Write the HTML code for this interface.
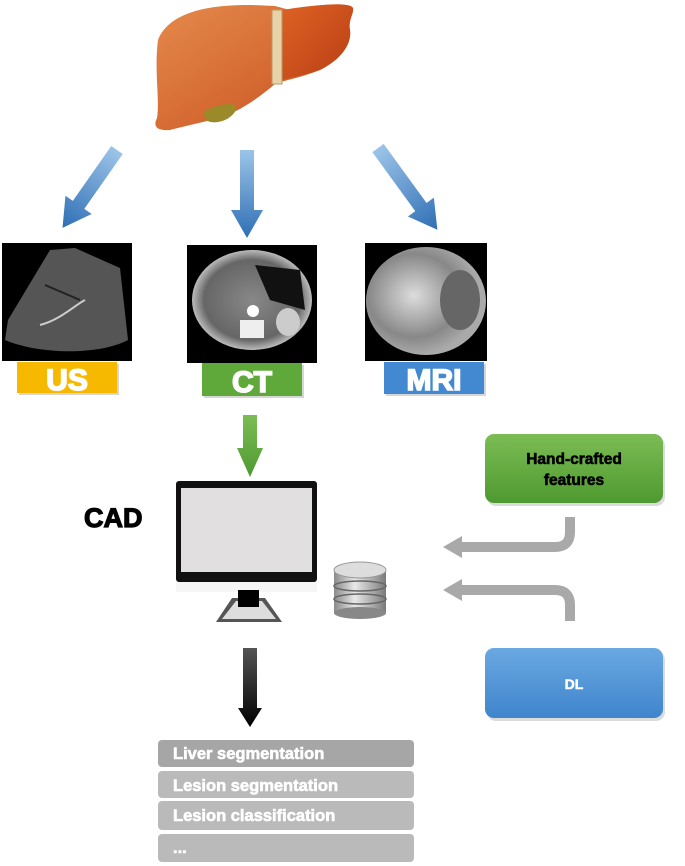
<!DOCTYPE html>
<html><head><meta charset="utf-8"><style>
html,body{margin:0;padding:0;background:#fff;}
svg{display:block;}
text{font-family:"Liberation Sans",Arial,sans-serif;font-weight:bold;}
</style></head><body>
<svg width="685" height="866" viewBox="0 0 685 866" xmlns="http://www.w3.org/2000/svg">
<defs>
<linearGradient id="liv" x1="0" y1="0" x2="1" y2="1"><stop offset="0" stop-color="#e58a4c"/><stop offset="1" stop-color="#c8501e"/></linearGradient>
<linearGradient id="liv2" x1="0" y1="0" x2="1" y2="1"><stop offset="0" stop-color="#de6224"/><stop offset="1" stop-color="#b83e14"/></linearGradient>
<linearGradient id="blu" x1="0" y1="0" x2="0" y2="1"><stop offset="0" stop-color="#9cc4e8"/><stop offset="1" stop-color="#2f6fb5"/></linearGradient>
<linearGradient id="grn" x1="0" y1="0" x2="0" y2="1"><stop offset="0" stop-color="#7cbc55"/><stop offset="1" stop-color="#4e9a30"/></linearGradient>
<linearGradient id="dl" x1="0" y1="0" x2="0" y2="1"><stop offset="0" stop-color="#6aa8e2"/><stop offset="1" stop-color="#3f85cc"/></linearGradient>
<linearGradient id="blk" x1="0" y1="0" x2="0" y2="1"><stop offset="0" stop-color="#555"/><stop offset="1" stop-color="#000"/></linearGradient>
<linearGradient id="db" x1="0" y1="0" x2="1" y2="0"><stop offset="0" stop-color="#8a8a8a"/><stop offset=".4" stop-color="#e8e8e8"/><stop offset="1" stop-color="#7a7a7a"/></linearGradient>
<radialGradient id="ct" cx=".5" cy=".5" r=".5"><stop offset="0" stop-color="#888"/><stop offset=".8" stop-color="#666"/><stop offset="1" stop-color="#bbb"/></radialGradient>
<radialGradient id="mr" cx=".4" cy=".45" r=".55"><stop offset="0" stop-color="#ddd"/><stop offset=".7" stop-color="#888"/><stop offset="1" stop-color="#aaa"/></radialGradient>
</defs>

<!-- liver -->
<path d="M158 40 C170 10 215 2 275 6 L290 10 C320 4 350 2 353 8 C354 14 348 20 350 30 C352 45 340 60 320 70 C300 78 285 80 275 84 C262 95 245 108 225 116 C205 122 185 126 170 130 C156 131 153 126 157 118 C160 100 154 70 158 40 Z" fill="url(#liv)"/>
<path d="M282 10 C320 4 350 2 353 8 C354 14 348 20 350 30 C352 45 340 60 320 70 C300 76 290 78 282 80 Z" fill="url(#liv2)"/>
<path d="M203 112 C215 104 240 100 236 110 C230 122 212 125 206 120 Z" fill="#9a8a2a"/>
<rect x="272" y="10" width="10" height="74" fill="#e8d2a8" stroke="#b89868" stroke-width="1"/>

<!-- blue arrows -->
<g fill="url(#blu)">
<g transform="translate(247,150)"><path d="M-7 0 H7 V60 H16 L0 88 L-16 60 H-7 Z"/></g>
<g transform="translate(117,150) rotate(35)"><path d="M-7 0 H7 V67 H16 L0 95 L-16 67 H-7 Z"/></g>
<g transform="translate(378,148) rotate(-36)"><path d="M-7 0 H7 V73 H16 L0 101 L-16 73 H-7 Z"/></g>
</g>

<!-- US image -->
<rect x="2" y="243" width="130" height="118" fill="#000"/>
<path d="M50 250 L75 248 L120 268 L128 340 C100 355 40 355 5 340 L8 320 Z" fill="#555"/>
<path d="M40 325 C60 320 75 305 85 300" stroke="#ccc" stroke-width="2" fill="none"/>
<path d="M45 285 L80 300" stroke="#222" stroke-width="2"/>
<!-- CT image -->
<rect x="187" y="245" width="130" height="118" fill="#000"/>
<ellipse cx="252" cy="300" rx="60" ry="50" fill="url(#ct)"/>
<path d="M255 265 L300 270 L305 310 L270 300 Z" fill="#111"/>
<rect x="240" y="320" width="24" height="18" fill="#eee"/>
<circle cx="253" cy="311" r="6" fill="#fff"/>
<ellipse cx="288" cy="322" rx="12" ry="14" fill="#ccc"/>
<!-- MRI image -->
<rect x="365" y="243" width="122" height="118" fill="#000"/>
<ellipse cx="426" cy="301" rx="60" ry="54" fill="url(#mr)"/>
<ellipse cx="460" cy="300" rx="20" ry="30" fill="#666"/>

<!-- modality labels -->
<g stroke-width="1.6">
<rect x="19" y="364" width="100" height="31" fill="#999" opacity=".4"/>
<rect x="17" y="362" width="100" height="31" fill="#f6b900"/>
<text x="67" y="390" font-size="30" fill="#fff" stroke="#fff" text-anchor="middle">US</text>
<rect x="204" y="365" width="100" height="33" fill="#999" opacity=".4"/>
<rect x="202" y="363" width="100" height="33" fill="#5fa83a"/>
<text x="252" y="392" font-size="30" fill="#fff" stroke="#fff" text-anchor="middle">CT</text>
<rect x="386" y="364" width="100" height="32" fill="#999" opacity=".4"/>
<rect x="384" y="362" width="100" height="32" fill="#4289d2"/>
<text x="434" y="390" font-size="30" fill="#fff" stroke="#fff" text-anchor="middle">MRI</text>
</g>

<!-- green arrow -->
<path d="M243 415 H257 V448 H263 L250 477 L237 448 H243 Z" fill="url(#grn)"/>

<!-- CAD -->
<text x="84" y="527" font-size="27" fill="#000" stroke="#000" stroke-width="1.2">CAD</text>
<rect x="176" y="481" width="141" height="101" rx="3" fill="#111"/>
<rect x="181" y="488" width="131" height="84" fill="#e1dfdf"/>
<rect x="176" y="582" width="141" height="10" fill="#f6f6f6"/>
<path d="M232 598 L265 598 L282 622 L216 622 Z" fill="#555"/>
<path d="M236 601 L262 601 L276 619 L222 619 Z" fill="#ddd"/>
<rect x="238" y="590" width="21" height="17" fill="#000"/>

<!-- DB -->
<g>
<rect x="334" y="570" width="52" height="43" fill="url(#db)"/>
<ellipse cx="360" cy="613" rx="26" ry="6" fill="#888"/>
<ellipse cx="360" cy="599" rx="26" ry="5" fill="none" stroke="#666" stroke-width="1.5"/>
<ellipse cx="360" cy="586" rx="26" ry="5" fill="none" stroke="#666" stroke-width="1.5"/>
<ellipse cx="360" cy="570" rx="26" ry="8" fill="#ddd" stroke="#999"/>
</g>

<!-- gray arrows -->
<g fill="none" stroke="#a9a9a9" stroke-width="10">
<path d="M460 547 H555 Q570 547 570 532 V517"/>
<path d="M460 590 H555 Q570 590 570 605 V621"/>
</g>
<path d="M443 547 L462 536 V558 Z" fill="#a9a9a9"/>
<path d="M443 590 L462 579 V601 Z" fill="#a9a9a9"/>

<!-- boxes -->
<rect x="487" y="437" width="178" height="69" rx="9" fill="#999" opacity=".35"/>
<rect x="485" y="434" width="178" height="69" rx="9" fill="url(#grn)"/>
<text x="574" y="464" font-size="15.5" fill="#000" stroke="#000" stroke-width=".6" text-anchor="middle">Hand-crafted</text>
<text x="574" y="485" font-size="15.5" fill="#000" stroke="#000" stroke-width=".6" text-anchor="middle">features</text>
<rect x="487" y="651" width="178" height="70" rx="9" fill="#999" opacity=".35"/>
<rect x="485" y="648" width="178" height="70" rx="9" fill="url(#dl)"/>
<text x="574" y="689" font-size="14" fill="#fff" stroke="#fff" stroke-width=".5" text-anchor="middle">DL</text>

<!-- black arrow -->
<path d="M243 648 H257 V708 H262 L250 727 L238 708 H243 Z" fill="url(#blk)"/>

<!-- list -->
<rect x="158" y="740" width="256" height="27" rx="4" fill="#a6a6a6"/>
<rect x="158" y="771" width="256" height="27" rx="4" fill="#bababa"/>
<rect x="158" y="801" width="256" height="29" rx="4" fill="#bababa"/>
<rect x="158" y="834" width="256" height="28" rx="4" fill="#bababa"/>
<g font-size="16.5" fill="#fff" stroke="#fff" stroke-width=".6">
<text x="173" y="759">Liver segmentation</text>
<text x="173" y="791">Lesion segmentation</text>
<text x="173" y="821">Lesion classification</text>
<text x="173" y="853">...</text>
</g>
</svg>
</body></html>
